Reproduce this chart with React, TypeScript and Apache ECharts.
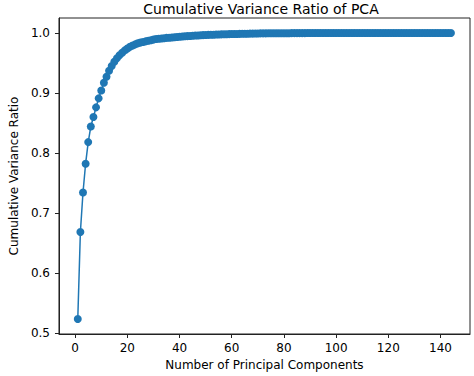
import React, { useEffect, useRef } from "react";
import * as echarts from "echarts";

const titleText = "Cumulative Variance Ratio of PCA";
const xName = "Number of Principal Components";
const yName = "Cumulative Variance Ratio";

const xTicks = [0, 20, 40, 60, 80, 100, 120, 140];
const yTicks = [0.5, 0.6, 0.7, 0.8, 0.9, 1.0];

const cumulativeRatio = [
  0.523, 0.668, 0.734, 0.782, 0.818, 0.844, 0.860, 0.876, 0.891, 0.904,
  0.917, 0.927, 0.937, 0.945, 0.952, 0.958, 0.963, 0.967, 0.971, 0.974,
  0.977, 0.979, 0.981, 0.983, 0.984, 0.985, 0.986, 0.987, 0.988, 0.989,
  0.990, 0.9904, 0.9909, 0.9913, 0.9918, 0.9922, 0.9926, 0.9930, 0.9934, 0.9938,
  0.9941, 0.9945, 0.9948, 0.9951, 0.9954, 0.9957, 0.9959, 0.9962, 0.9964, 0.9966,
  0.9968, 0.9970, 0.9972, 0.9974, 0.9976, 0.9977, 0.9979, 0.9980, 0.9981, 0.9982,
  0.9983, 0.9984, 0.9985, 0.9986, 0.9987, 0.9988, 0.9989, 0.9990, 0.9991, 0.9992,
  0.9993, 0.9994, 0.9994, 0.9995, 0.9995, 0.9996, 0.9996, 0.9996, 0.9997, 0.9997,
  0.9997, 0.9997, 0.9998, 0.9998, 0.9998, 0.9998, 0.9998, 0.9998, 0.9999, 0.9999,
  0.9999, 0.9999, 0.9999, 0.9999, 0.9999, 0.9999, 0.9999, 0.9999, 1.0, 1.0,
  1.0, 1.0, 1.0, 1.0, 1.0, 1.0, 1.0, 1.0, 1.0, 1.0,
  1.0, 1.0, 1.0, 1.0, 1.0, 1.0, 1.0, 1.0, 1.0, 1.0,
  1.0, 1.0, 1.0, 1.0, 1.0, 1.0, 1.0, 1.0, 1.0, 1.0,
  1.0, 1.0, 1.0, 1.0, 1.0, 1.0, 1.0, 1.0, 1.0, 1.0,
  1.0, 1.0, 1.0, 1.0,
];

const components = cumulativeRatio.map((_, i) => i + 1);

export default function App() {
  const ref = useRef<HTMLDivElement>(null);
  useEffect(() => {
    if (!ref.current) return;
    const chart = echarts.init(ref.current, null, { renderer: "svg" });
    const font = "'DejaVu Sans', sans-serif";
    chart.setOption({
      animation: false,
      textStyle: { fontFamily: font },
      title: {
        text: titleText,
        left: 256,
        textAlign: "center",
        top: -3,
        textStyle: { fontFamily: font, fontSize: 14, fontWeight: "normal", color: "#000" },
      },
      grid: {
        left: 45,
        right: 4,
        top: 18,
        bottom: 37,
        show: true,
        borderColor: "#222",
        borderWidth: 1,
        backgroundColor: "#fff",
      },
      xAxis: {
        type: "value",
        min: -6.2,
        max: 151.3,
        name: xName,
        nameLocation: "middle",
        nameGap: 25,
        nameTextStyle: { fontFamily: font, fontSize: 12, color: "#000" },
        axisLine: { show: true, onZero: false, lineStyle: { color: "#222" } },
        axisTick: { show: true, customValues: xTicks, length: 4, lineStyle: { color: "#222" } },
        axisLabel: { customValues: xTicks, fontFamily: font, fontSize: 12, color: "#000", margin: 8 },
        splitLine: { show: false },
      },
      yAxis: {
        type: "value",
        min: 0.498,
        max: 1.025,
        name: yName,
        nameLocation: "middle",
        nameGap: 37,
        nameTextStyle: { fontFamily: font, fontSize: 12, color: "#000" },
        axisLine: { show: true, onZero: false, lineStyle: { color: "#222" } },
        axisTick: { show: true, customValues: yTicks, length: 4, lineStyle: { color: "#222" } },
        axisLabel: {
          customValues: yTicks,
          fontFamily: font,
          fontSize: 12,
          color: "#000",
          margin: 9,
          formatter: (v: number) => v.toFixed(1),
        },
        splitLine: { show: false },
      },
      series: [
        {
          type: "line",
          data: components.map((c, i) => [c, cumulativeRatio[i]]),
          symbol: "circle",
          symbolSize: 8,
          showAllSymbol: true,
          lineStyle: { color: "#1f77b4", width: 1.5 },
          itemStyle: { color: "#1f77b4" },
        },
      ],
    });
    return () => chart.dispose();
  }, []);
  return (
    <div
      ref={ref}
      style={{ position: "fixed", left: 0, top: 0, width: 474, height: 376, background: "#fff" }}
    />
  );
}
